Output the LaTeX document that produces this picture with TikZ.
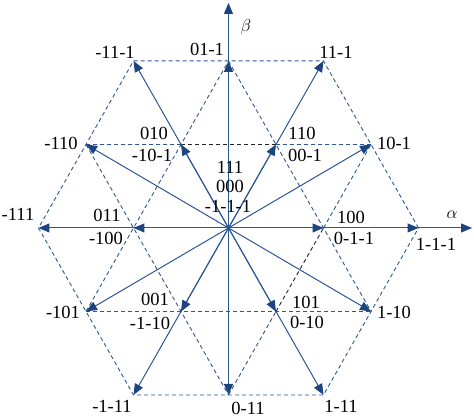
\documentclass[tikz,border=0pt]{standalone}
\usepackage{fontspec}
\setmainfont{Liberation Serif}
\usetikzlibrary{arrows.meta, positioning, calc}
\definecolor{vectorblue}{RGB}{45, 86, 150}
\definecolor{tipblue}{RGB}{30, 68, 128}
\definecolor{darkgray}{RGB}{35, 35, 40}

\begin{document}
\begin{tikzpicture}[
    x=1pt, y=1.015pt,
    vector/.style={line width=1pt, draw=vectorblue, -{Triangle[length=11pt,width=9pt,color=tipblue]}},
    grid/.style={line width=0.9pt, draw=vectorblue, dash pattern=on 4pt off 3pt},
    state/.style={font=\fontsize{18.5}{21}\selectfont, inner sep=0pt, text=black}
]
\useasboundingbox (-228.5,-186.2) rectangle (245.5,224.6);

% Vector points
\coordinate (O) at (0,0);
\foreach \a in {0,60,...,300} {
    \coordinate (L\a) at (\a:190);
    \coordinate (S\a) at (\a:95);
}
\foreach \a in {30,90,...,330} {
    \coordinate (M\a) at (\a:164.5);
}
\coordinate (alphaend) at (243.5,0);
\coordinate (betaend) at (0,221.7);

% Dashed grid
\draw [grid] (L0) -- (L60) -- (L120) -- (L180) -- (L240) -- (L300) -- cycle;
\draw [grid] (M150) -- (S120);
\draw [grid, draw=darkgray] (S120) -- (S60);
\draw [grid] (S60) -- (M30);
\draw [grid] (M210) -- (M330);
\draw [grid] (M210) -- (M90);
\draw [grid] (M270) -- (S300);
\draw [grid, draw=darkgray] (S300) -- (S0);
\draw [grid] (S0) -- (M30);
\draw [grid] (M150) -- (M270);
\draw [grid] (M90) -- (M330);

% Axes
\draw [vector] (O) -- (alphaend);
\draw [vector] (O) -- (betaend);

% Vectors
\foreach \a in {0,60,...,300} {
    \draw [vector] (O) -- (L\a);
    \draw [vector] (O) -- (S\a);
}
\foreach \a in {30,90,...,330} {
    \draw [vector] (O) -- (M\a);
}

% Labels
\node (alpha) [state] at (223.5,12.8) {$\alpha$};
\node (beta) [state] at (17.5,198) {$\beta$};

\node (labOa) [state] at (1.5,60.1) {111};
\node (labOb) [state] at (1.5,41.4) {000};
\node (labOc) [state] at (-0.5,21.7) {-1-1-1};

\node (labL0) [state] at (207.5,-15.8) {1-1-1};
\node (labL60) [state] at (107.5,173.4) {11-1};
\node (labL120) [state] at (-113.5,173.4) {-11-1};
\node (labL180) [state] at (-210.5,13.8) {-111};
\node (labL240) [state] at (-116.5,-175.4) {-1-11};
\node (labL300) [state] at (112.5,-175.4) {1-11};

\node (labM30) [state] at (165.5,82.8) {10-1};
\node (labM90) [state] at (-21.5,175.4) {01-1};
\node (labM150) [state] at (-167.5,82.8) {-110};
\node (labM210) [state] at (-165.5,-83.7) {-101};
\node (labM270) [state] at (19.5,-177.5) {0-11};
\node (labM330) [state] at (165.5,-83.7) {1-10};

\node (labS0a) [state] at (122.5,10.8) {100};
\node (labS0b) [state] at (125.5,-10.8) {0-1-1};
\node (labS60a) [state] at (73.5,93.6) {110};
\node (labS60b) [state] at (76.5,71.9) {00-1};
\node (labS120a) [state] at (-74.5,93.6) {010};
\node (labS120b) [state] at (-76.5,71.9) {-10-1};
\node (labS180a) [state] at (-121.5,12.8) {011};
\node (labS180b) [state] at (-122.5,-10.8) {-100};
\node (labS240a) [state] at (-73.5,-70) {001};
\node (labS240b) [state] at (-78.5,-93.6) {-1-10};
\node (labS300a) [state] at (77.5,-72.9) {101};
\node (labS300b) [state] at (78.5,-92.6) {0-10};

\end{tikzpicture}
\end{document}
